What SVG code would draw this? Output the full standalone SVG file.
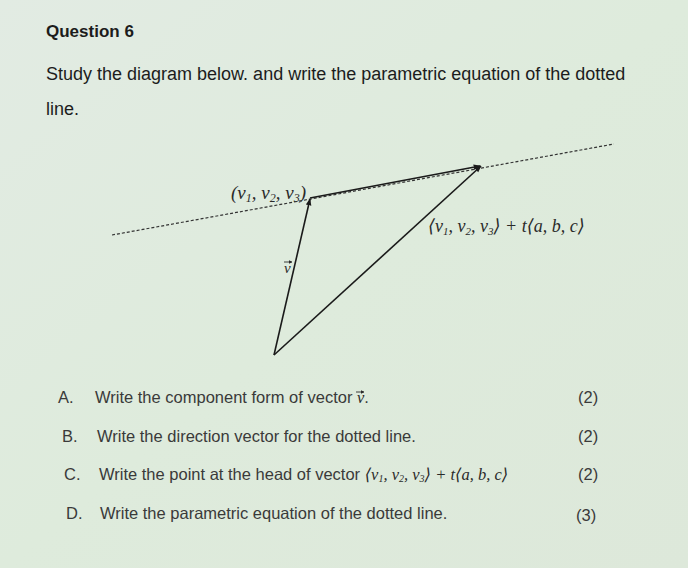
<svg xmlns="http://www.w3.org/2000/svg" width="688" height="568" viewBox="0 0 688 568">
<defs>
<linearGradient id="bg" x1="0" y1="0" x2="1" y2="1">
<stop offset="0" stop-color="#e2ebe3"/>
<stop offset="0.5" stop-color="#deebdc"/>
<stop offset="1" stop-color="#dde8da"/>
</linearGradient>
<marker id="ah" viewBox="0 0 10 10" refX="9" refY="5" markerWidth="7" markerHeight="7" orient="auto" markerUnits="userSpaceOnUse">
<path d="M0,1 L10,5 L0,9 z" fill="#1a1a1a"/>
</marker>
<marker id="sm" viewBox="0 0 10 10" refX="9" refY="5" markerWidth="3.5" markerHeight="3.5" orient="auto" markerUnits="userSpaceOnUse">
<path d="M0,0 L10,5 L0,10 z" fill="#2a2a2a"/>
</marker>
<style>
.q{font-family:"Liberation Sans",Arial,sans-serif;fill:#1c1c1c}
.it{font-family:"Liberation Sans",Arial,sans-serif;font-size:16.5px;fill:#3a3a3a}
.m{font-family:"Liberation Serif","DejaVu Serif",serif;font-style:italic;fill:#2a2a2a}
.ln{stroke:#1a1a1a;stroke-width:1.6;fill:none}
.va{stroke:#2a2a2a;stroke-width:0.9;fill:none}
</style>
</defs>
<rect width="688" height="568" fill="url(#bg)"/>
<text class="q" x="46" y="37" font-size="17" font-weight="bold">Question 6</text>
<text class="q" x="46" y="80" font-size="18">Study the diagram below. and write the parametric equation of the dotted</text>
<text class="q" x="46" y="115" font-size="18">line.</text>
<g id="connectors">
<line x1="112" y1="235" x2="614" y2="144" stroke="#333" stroke-width="1.2" stroke-dasharray="3,2"/>
<line class="ln" x1="310" y1="198" x2="480" y2="166" marker-end="url(#ah)"/>
<line class="ln" x1="274" y1="355" x2="310" y2="199" marker-end="url(#ah)"/>
<line class="ln" x1="274" y1="355" x2="481" y2="166" marker-end="url(#ah)"/>
</g>
<g id="label-point"><text class="m" x="231" y="199" font-size="19">(v<tspan font-size="12" dy="3">1</tspan><tspan dy="-3">, v</tspan><tspan font-size="12" dy="3">2</tspan><tspan dy="-3">, v</tspan><tspan font-size="12" dy="3">3</tspan><tspan dy="-3">)</tspan></text></g>
<g id="label-sum"><text class="m" x="428" y="232" font-size="18">⟨v<tspan font-size="11" dy="3">1</tspan><tspan dy="-3">, v</tspan><tspan font-size="11" dy="3">2</tspan><tspan dy="-3">, v</tspan><tspan font-size="11" dy="3">3</tspan><tspan dy="-3">⟩ + t⟨a, b, c⟩</tspan></text></g>
<g id="label-v"><text class="m" x="284" y="273" font-size="15">v</text><path class="va" d="M284,262 L292,262" marker-end="url(#sm)"/></g>
<g id="items">
<text class="it" x="58" y="403">A.</text><text class="it" x="95" y="403">Write the component form of vector <tspan class="m">v</tspan>.</text><path class="va" d="M356,392 L364,392" marker-end="url(#sm)"/><text class="it" x="578" y="403">(2)</text>
<text class="it" x="62" y="442">B.</text><text class="it" x="97" y="442">Write the direction vector for the dotted line.</text><text class="it" x="578" y="442">(2)</text>
<text class="it" x="64" y="480">C.</text><text class="it" x="99" y="480">Write the point at the head of vector <tspan class="m">⟨v<tspan font-size="10" dy="2">1</tspan><tspan dy="-2">, v</tspan><tspan font-size="10" dy="2">2</tspan><tspan dy="-2">, v</tspan><tspan font-size="10" dy="2">3</tspan><tspan dy="-2">⟩ + t⟨a, b, c⟩</tspan></tspan></text><text class="it" x="578" y="480">(2)</text>
<text class="it" x="66" y="519">D.</text><text class="it" x="100" y="519">Write the parametric equation of the dotted line.</text><text class="it" x="576" y="521">(3)</text>
</g>
</svg>
